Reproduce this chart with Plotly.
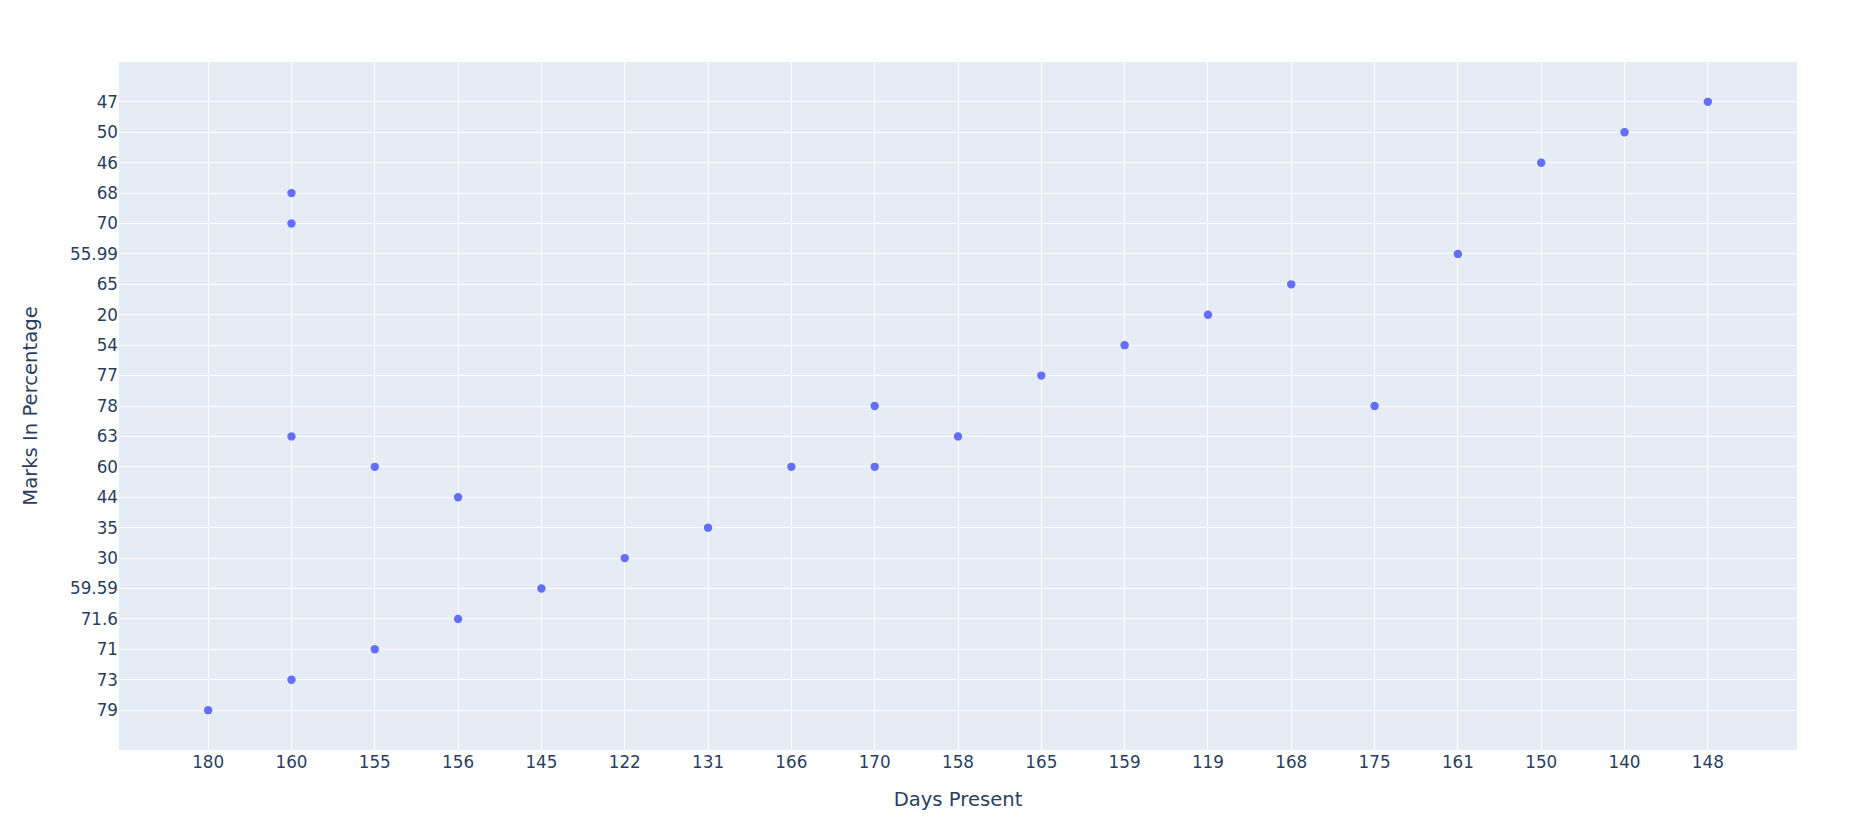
import plotly.graph_objects as go

# Attendance vs marks, kept as strings so both axes stay categorical
days_present = ["180", "160", "155", "156", "145", "122", "131", "156", "155", "160",
                "166", "170", "170", "158", "165", "159", "119", "168", "175", "161",
                "160", "160", "150", "140", "148"]
marks_pct = ["79", "73", "71", "71.6", "59.59", "30", "35", "44", "60", "63",
             "60", "60", "78", "63", "77", "54", "20", "65", "78", "55.99",
             "70", "68", "46", "50", "47"]

fig = go.Figure(go.Scatter(
    x=days_present,
    y=marks_pct,
    mode="markers",
    marker=dict(color="#636efa", size=8.4),
))

fig.update_layout(
    template="plotly",
    font=dict(family="DejaVu Sans", size=16.8),
    margin=dict(l=111, r=53, t=54, b=69),
    showlegend=False,
)
fig.update_xaxes(
    type="category",
    range=[-1.07, 19.07],
    automargin=False,
    title=dict(text="Days Present", font=dict(size=19.6), standoff=21),
    gridwidth=1.4,
)
fig.update_yaxes(
    type="category",
    range=[-1.31, 21.31],
    automargin=False,
    title=dict(text="Marks In Percentage", font=dict(size=19.6), standoff=27),
    gridwidth=1.4,
)

fig.write_html("out.html")
